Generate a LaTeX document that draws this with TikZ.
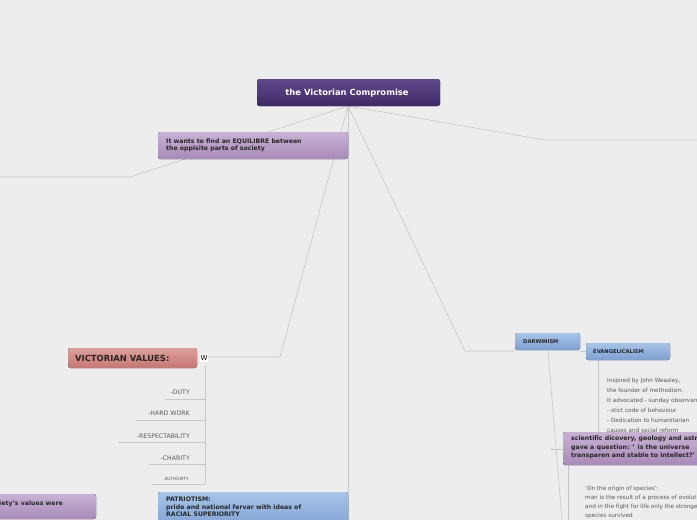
\documentclass[tikz,border=0pt]{standalone}
\usepackage{fontspec}
\setmainfont{DejaVu Sans}
\definecolor{tt}{RGB}{96,72,140}
\definecolor{tb}{RGB}{62,42,100}
\definecolor{pt1}{RGB}{200,178,212}
\definecolor{pb1}{RGB}{168,138,184}
\definecolor{bt1}{RGB}{168,196,232}
\definecolor{bb1}{RGB}{124,160,210}
\definecolor{rt1}{RGB}{222,160,156}
\definecolor{rb1}{RGB}{196,118,114}
\begin{document}
\begin{tikzpicture}[x=1pt,y=-1pt,
 con/.style={draw=black!22,line width=0.6pt},
 box/.style={rounded corners=2.5pt,draw=none},
 bt/.style={anchor=west,font=\bfseries\fontsize{6.2}{7.5}\selectfont,text=black!85,inner sep=0},
 pt/.style={anchor=west,font=\fontsize{5.6}{7}\selectfont,text=black!65,inner sep=0},
 it/.style={anchor=east,font=\fontsize{6.2}{7}\selectfont,text=black!65,inner sep=0}]
\fill[black!7] (0,0) rectangle (697,520);
\useasboundingbox (0,0) rectangle (697,520);
\clip (0,0) rectangle (697,520);
\coordinate (hub) at (348,106);
% connectors
\draw[con] (hub) -- (545,140) -- (697,140);
\draw[con] (hub) -- (130,177) -- (0,177);
\draw[con] (hub) -- (280,357) -- (205,357);
\draw[con] (hub) -- (348,520);
\draw[con] (hub) -- (465,351) -- (515,351);
\draw[con] (548,350) -- (562,520);
\draw[con] (580,351) -- (586,351);
\draw[con] (598,360) -- (598,432);
\draw[con] (568,465) -- (568,520);
\draw[con] (550,449) -- (563,449);
\draw[con] (205,366) -- (205,484);
\foreach \y/\a in {399/165,420/136,442/118,464/149,484/152}{\draw[con] (\a,\y) -- (205,\y);}
% boxes
\fill[box,top color=tt,bottom color=tb] (257,79) rectangle (440,106);
\node[font=\bfseries\fontsize{8.4}{10}\selectfont,text=white] (title) at (347,93) {the Victorian Compromise};
\fill[box,top color=pt1,bottom color=pb1] (158,132) rectangle (348,159);
\node[bt,align=left] (eq) at (166,145.5) {It wants to find an EQUILIBRE between\\the oppisite parts of society};
\fill[box,top color=rt1,bottom color=rb1] (68,348) rectangle (197,368);
\node[font=\bfseries\fontsize{8.4}{10}\selectfont,text=black!85,anchor=west,inner sep=0] (vv) at (75,358) {VICTORIAN VALUES:};
\node[fill=white,inner sep=1pt,font=\fontsize{7}{8}\selectfont] (w) at (204,358) {W};
\node[it] (d) at (190,392) {-DUTY};
\node[it] (h) at (190,413) {-HARD WORK};
\node[it] (r) at (190,436) {-RESPECTABILITY};
\node[it] (c) at (190,458) {-CHARITY};
\node[it,font=\fontsize{4.2}{5}\selectfont] (au) at (189,479) {AUTHORITY};
\fill[box,top color=pt1,bottom color=pb1] (-100,494) rectangle (96,519);
\node[bt,anchor=east] (sv) at (63,504) {society's values were};
\fill[box,top color=bt1,bottom color=bb1] (158,492) rectangle (348,530);
\node[bt,align=left,anchor=north west] (pa) at (166,497) {PATRIOTISM:\\pride and national fervar with ideas of\\RACIAL SUPERIORITY};
\fill[box,top color=bt1,bottom color=bb1] (515,333) rectangle (580,350);
\node[bt,font=\bfseries\fontsize{5.2}{6}\selectfont] (da) at (523,341.5) {DARWINISM};
\fill[box,top color=bt1,bottom color=bb1] (586,343) rectangle (670,360);
\node[bt,font=\bfseries\fontsize{5.2}{6}\selectfont] (ev) at (593,351.5) {EVANGELICALISM};
\node[pt,align=left,anchor=north west,font=\fontsize{5.7}{10}\selectfont] (ins) at (607,378) {Inspired by John Weasley,\\the founder of methodism.\\It advocated - sunday observance\\- stict code of behaviour\\- Dedication to humanitarian\\causes and social reform};
\fill[box,top color=pt1,bottom color=pb1] (563,432) rectangle (760,465);
\node[bt,align=left,anchor=north west,font=\bfseries\fontsize{6.2}{8.5}\selectfont] (sc) at (571,436) {scientific dicovery, geology and astronomy\\gave a question: ' is the universe\\transparen and stable to intellect?'};
\node[pt,align=left,anchor=north west,font=\fontsize{5.7}{9}\selectfont] (or) at (585,486) {'On the origin of species':\\man is the result of a process of evolution\\and in the fight for life only the strongest\\species survived};
\end{tikzpicture}
\end{document}
